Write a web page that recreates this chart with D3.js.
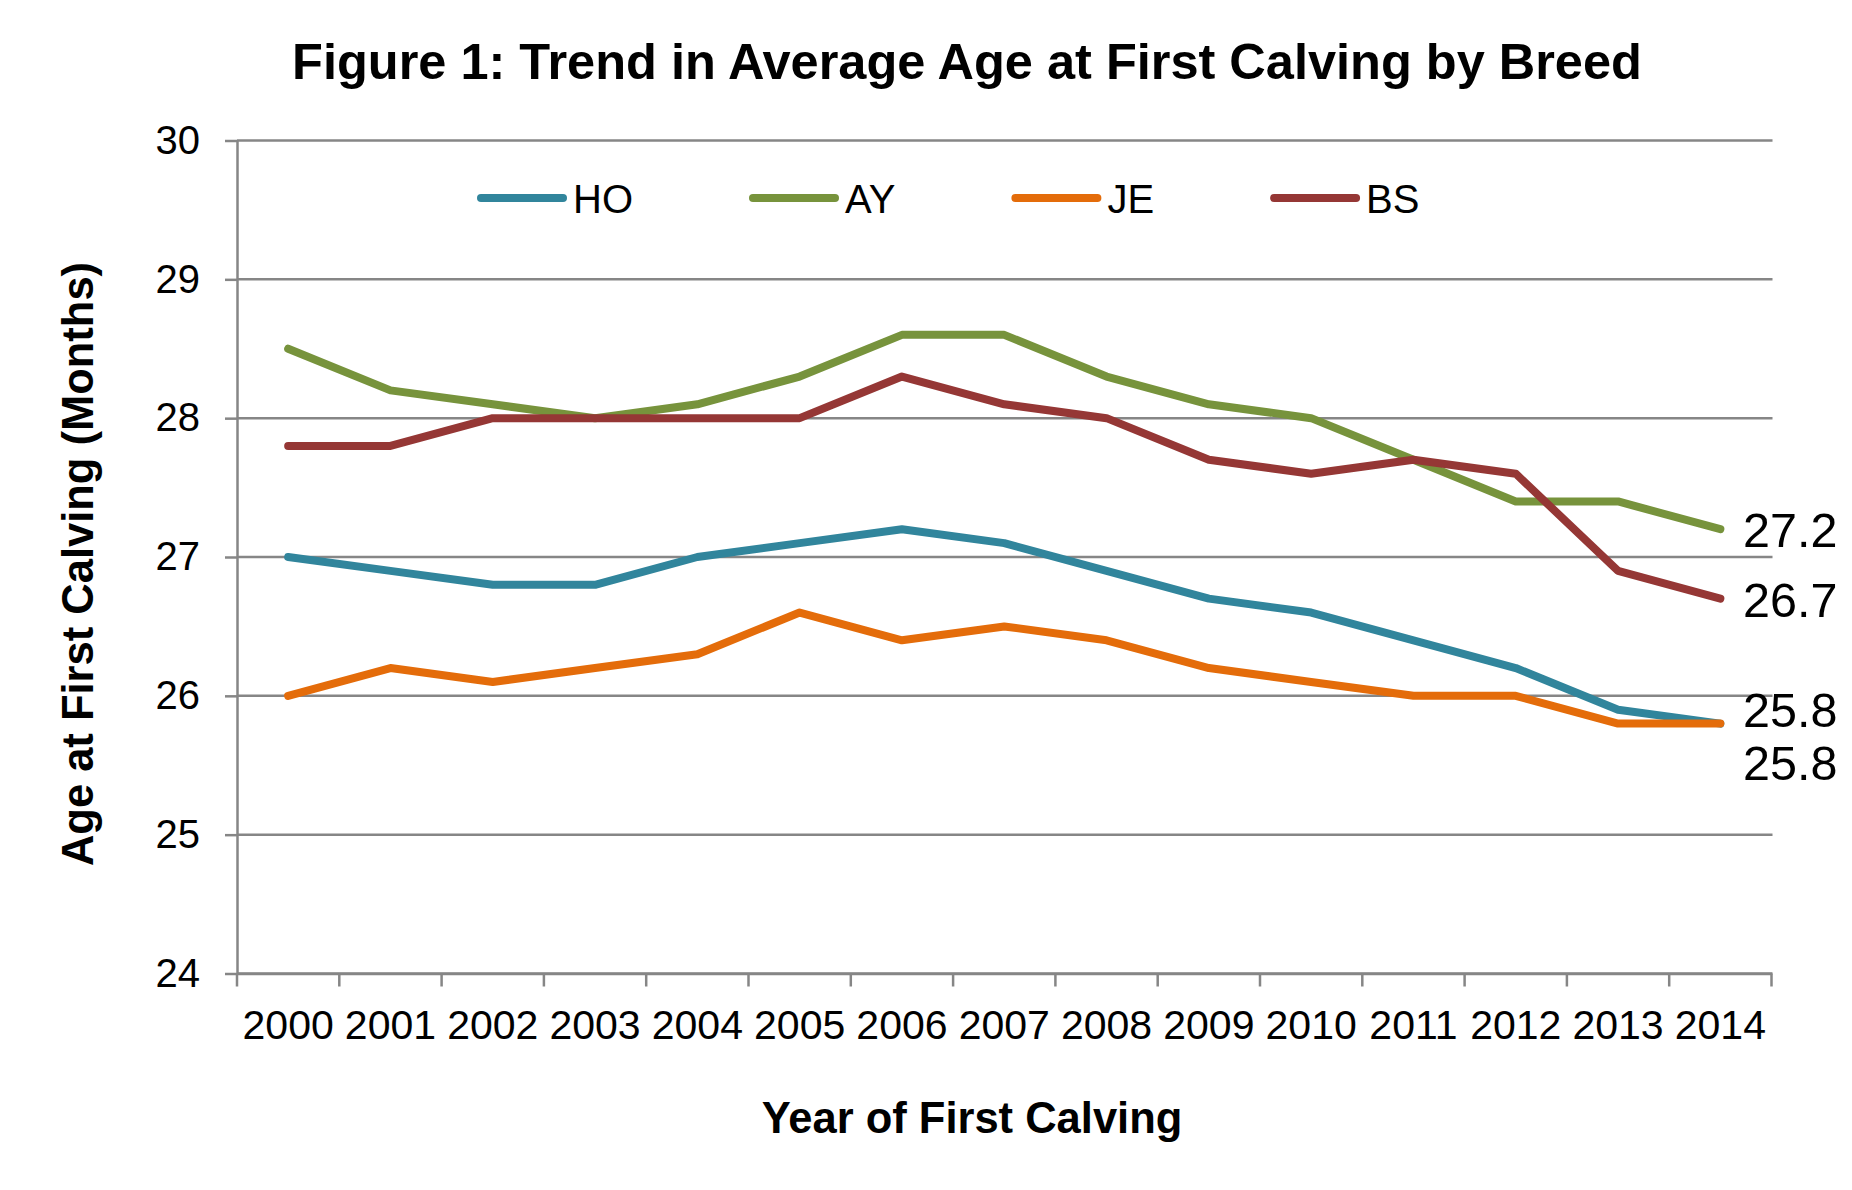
<!DOCTYPE html>
<html>
<head>
<meta charset="utf-8">
<script src="https://cdn.jsdelivr.net/npm/d3@7"></script>
<style>
  html, body { margin: 0; padding: 0; background: #fff; }
  svg { display: block; font-family: "Liberation Sans", Arial, sans-serif; }
</style>
</head>
<body>
<svg id="chart" width="1852" height="1190"></svg>
<script>
// ---------- data ----------
const years = ["2000","2001","2002","2003","2004","2005","2006","2007","2008","2009","2010","2011","2012","2013","2014"];
const seriesNames = ["HO", "AY", "JE", "BS"];
const hoValues = [27.0, 26.9, 26.8, 26.8, 27.0, 27.1, 27.2, 27.1, 26.9, 26.7, 26.6, 26.4, 26.2, 25.9, 25.8];
const ayValues = [28.5, 28.2, 28.1, 28.0, 28.1, 28.3, 28.6, 28.6, 28.3, 28.1, 28.0, 27.7, 27.4, 27.4, 27.2];
const jeValues = [26.0, 26.2, 26.1, 26.2, 26.3, 26.6, 26.4, 26.5, 26.4, 26.2, 26.1, 26.0, 26.0, 25.8, 25.8];
const bsValues = [27.8, 27.8, 28.0, 28.0, 28.0, 28.0, 28.3, 28.1, 28.0, 27.7, 27.6, 27.7, 27.6, 26.9, 26.7];
const yTicks = [24, 25, 26, 27, 28, 29, 30];
const titleText = "Figure 1: Trend in Average Age at First Calving by Breed";
const xTitle = "Year of First Calving";
const yTitle = "Age at First Calving (Months)";

// ---------- styles / layout ----------
const colors = { HO: "#31859C", AY: "#77933C", JE: "#E46C0A", BS: "#953735" };
const endLabelShift = { HO: -15, AY: 0, JE: 38, BS: 0 };
const plot = { left: 237, right: 1771.5, top: 140.5, bottom: 973.5 };
const gridColor = "#868686";

const series = [
  { name: "HO", values: hoValues },
  { name: "AY", values: ayValues },
  { name: "JE", values: jeValues },
  { name: "BS", values: bsValues }
];

const svg = d3.select("#chart");

const x = d3.scaleBand().domain(years).range([plot.left, plot.right]).padding(0);
const y = d3.scaleLinear().domain([24, 30]).range([plot.bottom, plot.top]);

// title
svg.append("text")
  .attr("x", 967).attr("y", 79)
  .attr("text-anchor", "middle")
  .attr("font-size", 50.5).attr("font-weight", "bold")
  .attr("fill", "#000")
  .text(titleText);

// gridlines
svg.append("g").selectAll("line")
  .data(yTicks)
  .join("line")
  .attr("x1", plot.left).attr("x2", plot.right + 1)
  .attr("y1", d => y(d)).attr("y2", d => y(d))
  .attr("stroke", gridColor).attr("stroke-width", 2.5);

// y axis
const yAxis = svg.append("g")
  .attr("transform", `translate(${plot.left},0)`)
  .call(d3.axisLeft(y).tickValues(yTicks).tickFormat(d3.format("d")).tickSize(12).tickSizeOuter(0).tickPadding(25));
yAxis.select(".domain").attr("stroke", gridColor).attr("stroke-width", 2.5);
yAxis.selectAll(".tick line").attr("stroke", gridColor).attr("stroke-width", 2.5);
yAxis.selectAll(".tick text")
  .attr("font-size", 40).attr("fill", "#000")
  .attr("font-family", "Liberation Sans, Arial, sans-serif");

// x axis
const xAxis = svg.append("g")
  .attr("transform", `translate(0,${plot.bottom})`)
  .call(d3.axisBottom(x).tickSize(0).tickSizeOuter(0).tickPadding(36));
xAxis.select(".domain").attr("stroke", gridColor).attr("stroke-width", 2.5);
xAxis.selectAll(".tick text")
  .attr("font-size", 41).attr("fill", "#000")
  .attr("font-family", "Liberation Sans, Arial, sans-serif");
// boundary tick marks
const boundaries = years.map(d => x(d)).concat([x.range()[1]]);
xAxis.append("g").selectAll("line")
  .data(boundaries)
  .join("line")
  .attr("x1", d => d).attr("x2", d => d)
  .attr("y1", 0).attr("y2", 13)
  .attr("stroke", gridColor).attr("stroke-width", 2.5);

// axis titles
svg.append("text")
  .attr("x", 972).attr("y", 1133)
  .attr("text-anchor", "middle")
  .attr("font-size", 43.5).attr("font-weight", "bold")
  .text(xTitle);

svg.append("text")
  .attr("transform", "translate(93,564) rotate(-90)")
  .attr("text-anchor", "middle")
  .attr("font-size", 43.5).attr("font-weight", "bold")
  .text(yTitle);

// lines
const line = d3.line()
  .x((d, i) => x(years[i]) + x.bandwidth() / 2)
  .y(d => y(d));

svg.append("g").selectAll("path")
  .data(series)
  .join("path")
  .attr("d", s => line(s.values))
  .attr("fill", "none")
  .attr("stroke", s => colors[s.name])
  .attr("stroke-width", 8)
  .attr("stroke-linejoin", "round")
  .attr("stroke-linecap", "round");

// end labels
svg.append("g").selectAll("text")
  .data(series)
  .join("text")
  .attr("x", 1743)
  .attr("y", s => y(s.values[s.values.length - 1]) + 18 + endLabelShift[s.name])
  .attr("font-size", 48.5)
  .attr("fill", "#000")
  .text(s => d3.format(".1f")(s.values[s.values.length - 1]));

// legend
const legend = svg.append("g");
let lx = 477;
const legendY = 198;
seriesNames.forEach(name => {
  legend.append("line")
    .attr("x1", lx + 4).attr("x2", lx + 86)
    .attr("y1", legendY).attr("y2", legendY)
    .attr("stroke", colors[name]).attr("stroke-width", 8)
    .attr("stroke-linecap", "round");
  const t = legend.append("text")
    .attr("x", lx + 96).attr("y", legendY + 15)
    .attr("font-size", 40).attr("fill", "#000")
    .text(name);
  lx = lx + 96 + t.node().getComputedTextLength() + 116;
});
</script>
</body>
</html>
